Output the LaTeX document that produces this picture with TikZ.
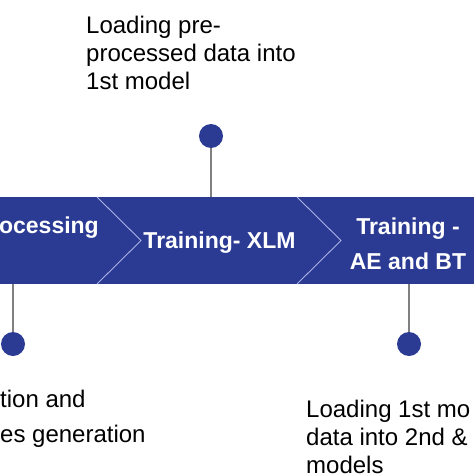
\documentclass[tikz,border=0pt]{standalone}
\usepackage{fontspec}
\setmainfont{Liberation Sans}
\definecolor{band}{rgb}{0.17,0.23,0.58}
\definecolor{chev}{rgb}{0.66,0.70,0.90}
\definecolor{stem}{rgb}{0.5,0.5,0.5}

\begin{document}
\begin{tikzpicture}
      [x = 1pt, y = -1pt,
      dot/.style= {
         fill = band,
         circle,
         inner sep = 0pt,
         minimum size = 24pt
      },
      stem/.style = {draw = stem, line width = 1.2pt},
      chevron/.style = {draw = chev, line width = 0.9pt},
      note/.style = {inner sep = 0pt, align = left, anchor = north west},
      stage/.style = {inner sep = 0pt, text = white, align = center,
         font = \fontsize{23}{35}\selectfont\bfseries}]

      \useasboundingbox (0, 0) rectangle (474, 474);
      \clip (0, 0) rectangle (474, 474);

      \fill[band] (0, 197) rectangle (474, 284);
      \draw[chevron] (97, 197) -- (141, 240.5) -- (97, 284);
      \draw[chevron] (297, 197) -- (341, 240.5) -- (297, 284);

      \node[stage, anchor = base east] (prep) at (99, 233) {ocessing};
      \node[stage, anchor = base] (xlm) at (219.5, 248) {Training- XLM};
      \node[stage] (aebt) at (408, 243.6) {Training -\\AE and BT};

      \coordinate (xlmtop) at (211, 197);
      \coordinate (prepbot) at (13, 284);
      \coordinate (aebtbot) at (409, 284);

      \node[dot] (dxlm) at (211, 136) {};
      \node[dot] (dprep) at (13, 344) {};
      \node[dot] (daebt) at (409, 344) {};

      \draw[stem] (dxlm) -- (xlmtop);
      \draw[stem] (prepbot) -- (dprep);
      \draw[stem] (aebtbot) -- (daebt);

      \node[note, font = \fontsize{24}{28}\selectfont] (nxlm) at (86, 15.8)
         {Loading pre-\\processed data into\\1st model};
      \node[note, font = \fontsize{24}{35}\selectfont] (nprep) at (0, 390.3)
         {tion and\\es generation};
      \node[note, font = \fontsize{24}{28}\selectfont] (naebt) at (306, 400.3)
         {Loading 1st mo\\data into 2nd \&\\models};

   \end{tikzpicture}
\end{document}
